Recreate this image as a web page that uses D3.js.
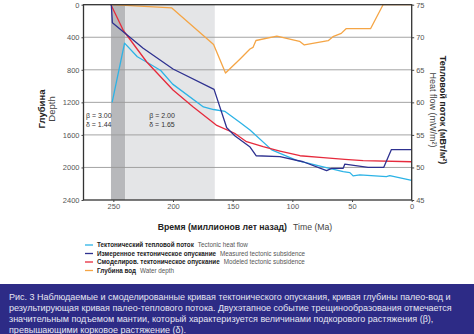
<!DOCTYPE html>
<html><head><meta charset="utf-8">
<script src="https://cdn.jsdelivr.net/npm/d3@7"></script>
<style>
body{margin:0;background:#fff;}
svg{display:block;font-family:"Liberation Sans",Arial,sans-serif;}
</style></head>
<body><svg id="c" width="474" height="334"></svg>
<script>
// ---- data ----
const depthTicks = [0, 400, 800, 1200, 1600, 2000, 2400];
const heatTicks = [45, 50, 55, 60, 65, 70, 75];
const timeTicks = [250, 200, 150, 100, 50, 0];

const waterMa    = [251, 201, 166, 156, 144, 135.5, 133, 130.5, 113, 94, 90, 70, 66, 59, 55, 34.5, 24, 0];
const waterDepth = [0, 40, 490, 840, 670, 545, 525, 440, 385, 450, 495, 442, 393, 352, 295, 295, 0, 0];

const measMa    = [251.7, 250.8, 225, 200, 165.6, 155, 148, 135.7, 130.4, 110.4, 91, 71.3, 67, 57.4, 56, 36.5, 23.4, 17, 0];
const measDepth = [0, 221, 536, 790, 1040, 1512, 1614, 1745, 1856, 1868, 1930, 2038, 2011, 2011, 1958, 1998, 1998, 1780, 1780];

const modMa    = [252, 241.6, 222, 200, 183.3, 163.8, 148.4, 138.4, 124.5, 110.4, 93.6, 74.2, 56, 40.7, 0];
const modDepth = [0, 317, 704, 1048, 1254, 1479, 1580, 1684, 1745, 1798, 1856, 1880, 1900, 1917, 1930];

const heatMa   = [251, 240.6, 229.9, 222.2, 210.3, 200.3, 174.5, 166, 156.4, 143.8, 135.5, 117.3, 96.4, 74.2, 57.4, 51.8, 49.1, 43.5, 21.2, 18.4, 0];
const heatFlow = [60.0, 69.1, 67.0, 66.2, 64.9, 62.8, 59.3, 58.9, 58.6, 56.9, 55.75, 52.7, 51.1, 50.1, 49.35, 49.2, 48.7, 48.85, 48.6, 48.75, 48.0];

const rifts = [[252, 240], [240, 165]];
const riftLabels = [["β = 3.00", "δ = 1.44"], ["β = 2.00", "δ = 1.65"]];

const legendRu = ["Тектонический тепловой поток", "Измеренное тектоническое опускание", "Смоделиров. тектоническое опускание", "Глубина вод"];
const legendEn = ["Tectonic heat flow", "Measured tectonic subsidence", "Modeled tectonic subsidence", "Water depth"];
const colors = ["#2cb3e6", "#2e3190", "#e62a3c", "#f5a545"];

const captionLines = [
 "Рис. 3 Наблюдаемые и смоделированные кривая тектонического опускания, кривая глубины палео-вод и",
 "результирующая кривая палео-теплового потока. Двухэтапное событие трещинообразования отмечается",
 "значительным подъемом мантии, который характеризуется величинами подкорового растяжения (β),",
 "превышающими корковое растяжение (δ)."
];

// ---- layout ----
const L = 83.5, R = 411.7, T = 4.7, B = 200;
const svg = d3.select("#c");
const x = d3.scaleLinear().domain([275, 0]).range([L, R]);
const yD = d3.scaleLinear().domain([0, 2400]).range([T, B]);
const yH = d3.scaleLinear().domain([75, 45]).range([T, B]);

// shaded rift bands
svg.selectAll("rect.band").data(rifts).join("rect")
  .attr("x", d => x(d[0])).attr("width", d => x(d[1]) - x(d[0]))
  .attr("y", T).attr("height", B - T)
  .attr("fill", (d, i) => i === 0 ? "#b7b8bb" : "#e4e5e7");

// grid lines
svg.selectAll("line.grid").data(depthTicks.slice(1, -1)).join("line")
  .attr("x1", L).attr("x2", R).attr("y1", d => yD(d)).attr("y2", d => yD(d))
  .attr("stroke", "#9a9a9a").attr("stroke-width", 0.9);

// rift labels
riftLabels.forEach((lab, i) => {
  const xs = i === 0 ? L + 2.5 : x(rifts[1][0]) + 24;
  lab.forEach((t, j) => {
    svg.append("text").attr("x", xs).attr("y", 118 + j * 9)
      .attr("font-size", 7).attr("fill", "#333").text(t);
  });
});

// lines
const lineD = d3.line().x(d => x(d[0])).y(d => yD(d[1]));
const lineH = d3.line().x(d => x(d[0])).y(d => yH(d[1]));
const series = [
  {gen: lineH, d: d3.zip(heatMa, heatFlow), c: colors[0]},
  {gen: lineD, d: d3.zip(waterMa, waterDepth), c: colors[3]},
  {gen: lineD, d: d3.zip(modMa, modDepth), c: colors[2]},
  {gen: lineD, d: d3.zip(measMa, measDepth), c: colors[1]},
];
series.forEach(s => {
  svg.append("path").attr("d", s.gen(s.d)).attr("fill", "none")
    .attr("stroke", s.c).attr("stroke-width", 1.3).attr("stroke-linejoin", "round");
});

// frame
svg.append("rect").attr("x", L).attr("y", T).attr("width", R - L).attr("height", B - T)
  .attr("fill", "none").attr("stroke", "#333").attr("stroke-width", 1.3);

// axes
const axStyle = g => {
  g.select(".domain").remove();
  g.selectAll(".tick line").attr("stroke", "#444");
  g.selectAll(".tick text").attr("fill", "#555").attr("font-size", 7.5)
    .attr("font-family", "Liberation Sans, Arial, sans-serif");
};
svg.append("g").attr("transform", `translate(${L},0)`)
  .call(d3.axisLeft(yD).tickValues(depthTicks).tickSize(2).tickPadding(2).tickFormat(d3.format("d")))
  .call(axStyle);
svg.append("g").attr("transform", `translate(${R},0)`)
  .call(d3.axisRight(yH).tickValues(heatTicks).tickSize(2.5).tickPadding(2).tickFormat(d3.format("d")))
  .call(axStyle);
svg.append("g").attr("transform", `translate(0,${B})`)
  .call(d3.axisBottom(x).tickValues(timeTicks).tickSize(2).tickPadding(2).tickFormat(d3.format("d")))
  .call(axStyle);

// axis titles
const lt = svg.append("text").attr("transform", `translate(45,109) rotate(-90)`)
  .attr("text-anchor", "middle").attr("font-size", 9.5);
lt.append("tspan").attr("x", 0).attr("font-weight", "bold").attr("fill", "#222").text("Глубина");
lt.append("tspan").attr("x", 0).attr("dy", 10).attr("fill", "#444").text("Depth");

const rt = svg.append("text").attr("transform", `translate(440,110) rotate(90)`)
  .attr("text-anchor", "middle").attr("font-size", 9);
rt.append("tspan").attr("x", 0).attr("font-weight", "bold").attr("fill", "#222").text("Тепловой поток (мВт/м²)");
rt.append("tspan").attr("x", 0).attr("dy", 10).attr("fill", "#444").text("Heat flow (mW/m²)");

const xt = svg.append("text").attr("x", 245).attr("y", 230).attr("text-anchor", "middle").attr("font-size", 8.7);
xt.append("tspan").attr("font-weight", "bold").attr("fill", "#222").text("Время (миллионов лет назад)");
xt.append("tspan").attr("dx", 6).attr("fill", "#444").text("Time (Ma)");

// legend
legendRu.forEach((t, i) => {
  const yy = 245 + i * 8.5;
  svg.append("line").attr("x1", 85).attr("x2", 93).attr("y1", yy).attr("y2", yy)
    .attr("stroke", colors[i]).attr("stroke-width", 1.3);
  const tx = svg.append("text").attr("x", 97).attr("y", yy + 2.2).attr("font-size", 6.3);
  tx.append("tspan").attr("font-weight", "bold").attr("fill", "#222").text(t);
  tx.append("tspan").attr("dx", 4).attr("fill", "#555").text(legendEn[i]);
});

// caption
svg.append("rect").attr("x", 0).attr("y", 284).attr("width", 474).attr("height", 50).attr("fill", "#2d2b86");
captionLines.forEach((t, i) => {
  svg.append("text").attr("x", 9).attr("y", 299.5 + i * 11.3).attr("font-size", 9)
    .attr("fill", "#e6e6f2").text(t);
});
</script></body></html>
